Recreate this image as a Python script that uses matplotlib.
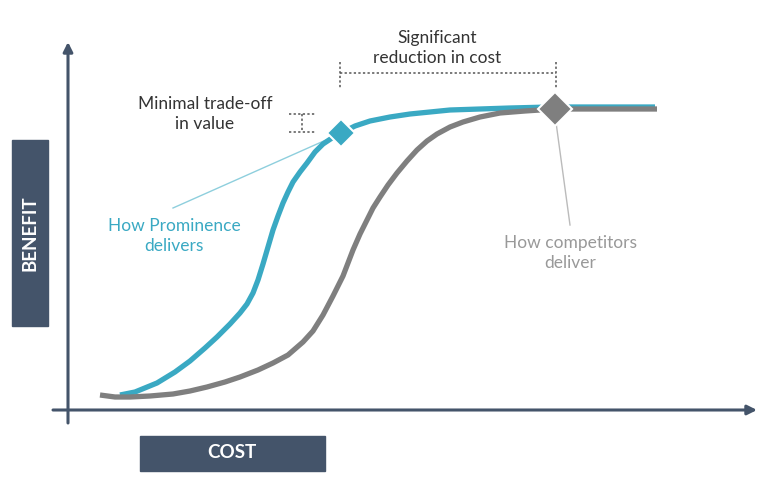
import matplotlib.pyplot as plt
from matplotlib.patches import Rectangle

plt.rcParams['font.family'] = ['Lato', 'DejaVu Sans']

# curves (pixel space, y downward)
prominence_x = [120, 135, 157, 175, 190, 205, 217, 230, 240, 247, 253, 258, 263, 268, 273, 278,
                283, 288, 293, 300, 307, 315, 323, 332, 341, 355, 370, 390, 410, 430, 450, 480,
                510, 550, 600, 655]
prominence_y = [395, 392, 383, 372, 361, 348, 337, 324, 313, 304, 293, 280, 264, 247, 230, 216,
                203, 192, 182, 172, 163, 152, 144, 138, 133, 126, 121, 117, 114, 112, 110, 109,
                108, 107, 107, 107]
competitor_x = [100, 115, 130, 150, 173, 190, 207, 225, 240, 258, 273, 288, 303, 313, 323, 333,
                343, 353, 360, 367, 373, 380, 388, 397, 407, 417, 427, 437, 450, 463, 480, 500,
                525, 555, 600, 657]
competitor_y = [395, 397, 397, 396, 394, 391, 387, 382, 377, 370, 363, 355, 342, 331, 315, 296,
                276, 250, 234, 220, 208, 197, 185, 173, 161, 150, 141, 134, 127, 122, 117, 113,
                111, 109, 109, 109]

prominence_point = (341, 133)
competitor_point = (555, 109)

BLUE = '#3AA9C3'
GREY = '#7F7F7F'
NAVY = '#44546A'
TEXT = '#333333'

fig = plt.figure(figsize=(7.68, 4.82), dpi=100)
ax = fig.add_axes([0, 0, 1, 1])
ax.set_xlim(0, 768)
ax.set_ylim(482, 0)
ax.axis('off')

# axes arrows
ax.annotate('', xy=(757, 410), xytext=(53, 410),
            arrowprops=dict(arrowstyle='-|>', color=NAVY, lw=2.2, mutation_scale=14, shrinkA=0, shrinkB=0))
ax.annotate('', xy=(68, 42), xytext=(68, 423),
            arrowprops=dict(arrowstyle='-|>', color=NAVY, lw=2.2, mutation_scale=14, shrinkA=0, shrinkB=0))

# axis label boxes
ax.add_patch(Rectangle((12, 140), 36, 186, color=NAVY))
ax.text(30, 233, 'BENEFIT', color='white', fontsize=13.5, fontweight='bold',
        rotation=90, ha='center', va='center')
ax.add_patch(Rectangle((140, 436), 185, 35, color=NAVY))
ax.text(232, 453, 'COST', color='white', fontsize=13.5, fontweight='bold', ha='center', va='center')

# leader lines
ax.plot([prominence_point[0] - 6, 173], [prominence_point[1] + 3, 208], color='#8ECFDD', lw=1, zorder=2)
ax.plot([competitor_point[0], 570], [competitor_point[1] + 6, 225], color='#BBBBBB', lw=1, zorder=2)

# curves
ax.plot(prominence_x, prominence_y, color=BLUE, lw=3.8, solid_capstyle='butt',
        solid_joinstyle='round', zorder=3)
ax.plot(competitor_x, competitor_y, color=GREY, lw=3.8, solid_capstyle='butt',
        solid_joinstyle='round', zorder=3)

ax.plot(*prominence_point, marker='D', ms=14, color=BLUE, mec='white', mew=1.5, zorder=5)
ax.plot(*competitor_point, marker='D', ms=17, color=GREY, mec='white', mew=1.5, zorder=5)

# brackets
dot = dict(color='#555555', lw=1.1, ls=(0, (1.5, 1.5)))
ax.plot([340, 556], [73, 73], **dot)
ax.plot([340, 340], [62, 88], **dot)
ax.plot([556, 556], [62, 88], **dot)
ax.plot([289, 315], [114, 114], **dot)
ax.plot([289, 315], [132, 132], **dot)
ax.plot([302, 302], [114, 132], **dot)

# annotations
ax.text(205, 114, 'Minimal trade-off\nin value', color=TEXT, fontsize=12.5,
        ha='center', va='center', linespacing=1.35)
ax.text(437, 48, 'Significant\nreduction in cost', color=TEXT, fontsize=12.5,
        ha='center', va='center', linespacing=1.35)
ax.text(174, 236, 'How Prominence\ndelivers', color=BLUE, fontsize=12.5,
        ha='center', va='center', linespacing=1.35)
ax.text(570, 253, 'How competitors\ndeliver', color='#999999', fontsize=12.5,
        ha='center', va='center', linespacing=1.35)

fig.savefig('out.png', dpi=100, facecolor='white')
